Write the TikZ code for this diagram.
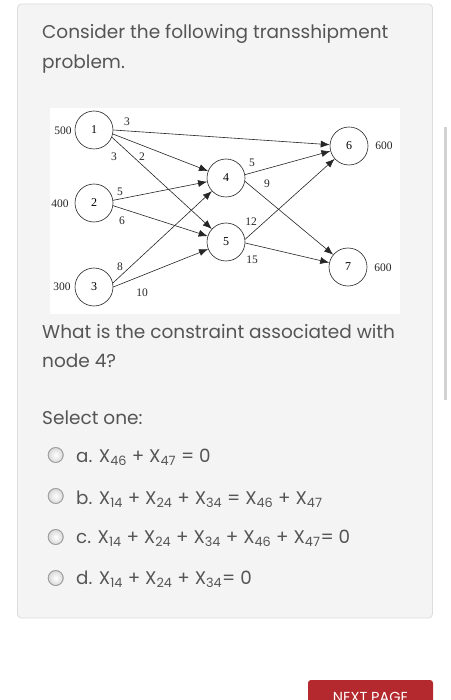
\documentclass[tikz,border=0pt]{standalone}
\usepackage{fontspec}
\setmainfont{Poppins}
\newfontfamily\timesf{Liberation Serif}
\usetikzlibrary{arrows.meta}
\definecolor{txt}{HTML}{555555}
\definecolor{cardbg}{HTML}{F4F4F4}
\definecolor{cardline}{HTML}{DCDCDC}
\definecolor{btnred}{HTML}{B3292E}
\begin{document}
\begin{tikzpicture}[x=1pt,y=-1pt,
  body/.style={anchor=base west, inner sep=0pt, text=txt, font=\fontsize{18.5}{21}\selectfont},
  opt/.style={anchor=base west, inner sep=0pt, text=txt, font=\fontsize{18.3}{21}\selectfont},
  netnode/.style={circle, draw=black!85, line width=0.6pt, minimum size=38pt, inner sep=0pt, font=\timesf\fontsize{12}{14}\selectfont},
  lab/.style={inner sep=0pt, font=\timesf\fontsize{11.5}{13}\selectfont, text=black!85},
  edge/.style={draw=black!85, line width=0.6pt, -{Latex[length=9pt,width=7pt]}},
  radio/.style={draw=gray!75, line width=0.7pt, inner color=white, outer color=gray!30}
]
\useasboundingbox (0,0) rectangle (450,700);
\fill[white] (0,0) rectangle (450,700);
% card
\draw[fill=cardbg, draw=cardline, line width=0.8pt, rounded corners=4pt] (17.5,4) rectangle (432.5,618);
% scrollbar
\fill[gray!35] (443.5,127) rectangle (446.5,400);

\node[body] (t1) at (42,39) {Consider the following transshipment};
\node[body] (t2) at (42,69) {problem.};

% diagram panel
\fill[white] (50,108) rectangle (400,314);
\node[netnode] (n1) at (94,130) {1};
\node[netnode] (n2) at (94,203) {2};
\node[netnode] (n3) at (94,287) {3};
\node[netnode] (n4) at (226,178) {4};
\node[netnode] (n5) at (226,242) {5};
\node[netnode] (n6) at (349,146) {6};
\node[netnode] (n7) at (348,267) {7};

\node[lab] (s1) at (63,131) {500};
\node[lab] (s2) at (60,204) {400};
\node[lab] (s3) at (62,287) {300};
\node[lab] (d6) at (384,146) {600};
\node[lab] (d7) at (383,268) {600};

\draw[edge] (n1.0) -- (n6);
\draw[edge] (n1.-12) -- (n4);
\draw[edge] (n1.-22) -- (n5);
\draw[edge] (n2.8) -- (n4);
\draw[edge] (n2.-8) -- (n5);
\draw[edge] (n3.12) -- (n4);
\draw[edge] (n3.0) -- (n5);
\draw[edge] (n4.10) -- (n6);
\draw[edge] (n4.-10) -- (n7);
\draw[edge] (n5.8) -- (n6);
\draw[edge] (n5.-3) -- (n7);

\node[lab] (c16) at (127,122) {3};
\node[lab] (c14) at (142,157) {2};
\node[lab] (c15) at (114,157) {3};
\node[lab] (c24) at (120,192) {5};
\node[lab] (c25) at (122,221) {6};
\node[lab] (c34) at (120,267) {8};
\node[lab] (c35) at (142,293) {10};
\node[lab] (c46) at (252,163) {5};
\node[lab] (c47) at (267,184) {9};
\node[lab] (c56) at (251,222) {12};
\node[lab] (c57) at (252,260) {15};

\node[body] (q1) at (42,338) {What is the constraint associated with};
\node[body] (q2) at (42,367) {node 4?};
\node[body] (q3) at (42,424) {Select one:};

\shade[radio] (55.7,455) circle (7.5pt);
\shade[radio] (55.7,496) circle (7.5pt);
\shade[radio] (55.7,537) circle (7.5pt);
\shade[radio] (55.7,578) circle (7.5pt);
\draw[draw=gray!75, line width=0.7pt] (55.7,455) circle (7.5pt) (55.7,496) circle (7.5pt) (55.7,537) circle (7.5pt) (55.7,578) circle (7.5pt);

\node[opt] (oa) at (76,462) {a. X\textsubscript{46} + X\textsubscript{47} = 0};
\node[opt] (ob) at (76,504) {b. X\textsubscript{14} + X\textsubscript{24} + X\textsubscript{34} = X\textsubscript{46} + X\textsubscript{47}};
\node[opt] (oc) at (76,543) {c. X\textsubscript{14} + X\textsubscript{24} + X\textsubscript{34} + X\textsubscript{46} + X\textsubscript{47}= 0};
\node[opt] (od) at (76,584) {d. X\textsubscript{14} + X\textsubscript{24} + X\textsubscript{34}= 0};

% button
\fill[btnred, rounded corners=3pt] (308,680) rectangle (433,720);
\node[anchor=base, inner sep=0pt, text=white, font=\fontsize{14.5}{16}\selectfont] (btn) at (370.5,702.5) {NEXT PAGE};
\end{tikzpicture}
\end{document}
